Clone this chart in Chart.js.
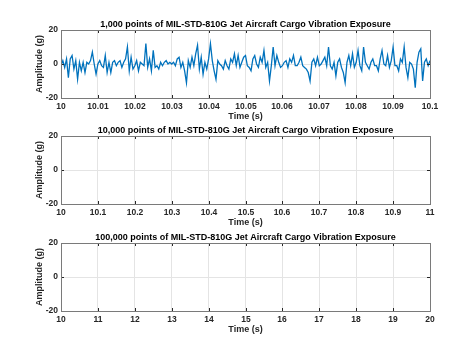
<!DOCTYPE html>
<html><head><meta charset="utf-8">
<script src="https://cdn.jsdelivr.net/npm/chart.js@4.4.0/dist/chart.umd.min.js"></script>
<style>
html,body{margin:0;padding:0;background:#fff;width:474px;height:355px;overflow:hidden}
canvas{position:absolute;left:0}
</style></head><body>
<canvas id="c1" width="474" height="125" style="top:0px"></canvas>
<canvas id="c2" width="474" height="125" style="top:106px"></canvas>
<canvas id="c3" width="474" height="125" style="top:213px"></canvas>
<script>
// ---- data ----
const titles = [
  '1,000 points of MIL-STD-810G Jet Aircraft Cargo Vibration Exposure',
  '10,000 points of MIL-STD-810G Jet Aircraft Cargo Vibration Exposure',
  '100,000 points of MIL-STD-810G Jet Aircraft Cargo Vibration Exposure'
];
const xTitle = 'Time (s)';
const yTitle = 'Amplitude (g)';
const yTicks = [-20, 0, 20];
const yLabels = ['-20', '0', '20'];
const xTicks1 = [10, 10.01, 10.02, 10.03, 10.04, 10.05, 10.06, 10.07, 10.08, 10.09, 10.1];
const xLabels1 = ['10','10.01','10.02','10.03','10.04','10.05','10.06','10.07','10.08','10.09','10.1'];
const xTicks2 = [10, 10.1, 10.2, 10.3, 10.4, 10.5, 10.6, 10.7, 10.8, 10.9, 11];
const xLabels2 = ['10','10.1','10.2','10.3','10.4','10.5','10.6','10.7','10.8','10.9','11'];
const xTicks3 = [10, 11, 12, 13, 14, 15, 16, 17, 18, 19, 20];
const xLabels3 = ['10','11','12','13','14','15','16','17','18','19','20'];
// sampled signal, 1st subplot (start time and sample step)
const t0 = 10;
const dt = 0.0005;
const amp1 = [
  -1, 2, -2, 3, -8, 3, 5, -3, 2, -9, 1, -4, 1, -5, 1, 0, 2, 7, 0, -6,
  0, 2, -1, -2, 5, -5, 1, -5, 1, 2, -1, 1, 2, -2, 1, 3, 10, -4, 4, -3,
  -1, 2, -4, 1, 0, -1, 12, -2, 3, -4, 8, -2, -1, -3, 1, -1, 1, 2, 0, 1,
  0, 1, -1, 3, 4, -2, 1, -4, -11, 2, -2, 4, -1, 6, 11, -3, 4, -6, 1, -3,
  3, 12, 2, -4, -9, 2, 0, -1, -3, 2, -1, -3, 3, 1, 6, -1, 5, -2, 1, 4,
  5, -1, -2, -4, 3, 5, 0, -2, 4, 1, 8, -2, 1, -10, -1, 10, -1, 5, 1, -2,
  -1, 1, 2, -2, 3, 1, 5, -1, -1, 1, 4, -1, -2, -3, -5, -10, 1, 3, -1, 4,
  -1, 0, 2, 4, -1, 10, -1, -3, 1, -7, 1, 3, -2, -5, -11, 1, 5, -1, 6, -2,
  1, 8, -1, -4, 10, 1, -1, -3, 1, 3, -1, -1, -4, 3, 8, 0, -1, 5, -2, 2,
  10, -1, -1, -4, 3, 1, 10, -2, -8, 1, 0, -3, -14, 1, 7, 9, -10, 1, 3, -1, 2
];

// ---- rendering ----
const FAM = "'Liberation Sans', Arial, Helvetica, sans-serif";
const TXT = '#262626';
const GRID = '#e4e4e4';

const boxPlugin = {
  id: 'matlabBox',
  afterDraw(chart, args, opts) {
    const {ctx, chartArea: a, scales: {x, y}} = chart;
    ctx.save();
    ctx.strokeStyle = '#262626';
    ctx.lineWidth = 1;
    ctx.beginPath();
    x.ticks.forEach(t => {
      const px = Math.round(x.getPixelForValue(t.value)) + 0.5;
      ctx.moveTo(px, a.bottom); ctx.lineTo(px, a.bottom - 3);
      ctx.moveTo(px, a.top); ctx.lineTo(px, a.top + 3);
    });
    y.ticks.forEach(t => {
      const py = Math.round(y.getPixelForValue(t.value)) + 0.5;
      ctx.moveTo(a.left, py); ctx.lineTo(a.left + 3, py);
      ctx.moveTo(a.right, py); ctx.lineTo(a.right - 3, py);
    });
    ctx.stroke();
    ctx.strokeStyle = '#7a7a7a';
    ctx.strokeRect(Math.round(a.left) + 0.5, Math.round(a.top) + 0.5,
                   Math.round(a.right - a.left), Math.round(a.bottom - a.top));
    // x tick labels, placed through the x scale
    ctx.fillStyle = TXT;
    ctx.font = 'bold 8.5px ' + FAM;
    ctx.textAlign = 'center';
    ctx.textBaseline = 'alphabetic';
    opts.ticks.forEach((v, i) => {
      ctx.fillText(opts.labels[i], Math.round(x.getPixelForValue(v)), Math.round(a.bottom) + 11);
    });
    ctx.restore();
  }
};

function makeChart(id, title, xt, xl, points) {
  return new Chart(document.getElementById(id), {
    type: 'line',
    data: { datasets: [{ data: points, borderColor: '#0072BD', borderWidth: 1.3,
                         pointRadius: 0, tension: 0, fill: false }] },
    options: {
      responsive: false, animation: false, devicePixelRatio: 1,
      parsing: false,
      layout: { padding: { left: 0, right: 44, top: 0, bottom: 0 } },
      plugins: {
        legend: { display: false }, tooltip: { enabled: false },
        title: { display: true, text: title, fullSize: false, color: '#000',
                 font: { family: FAM, size: 9, weight: 'bold' },
                 padding: { top: 18.8, bottom: 0.4 } },
        matlabBox: { ticks: xt, labels: xl }
      },
      scales: {
        x: {
          type: 'linear', min: xt[0], max: xt[xt.length - 1],
          afterBuildTicks: s => { s.ticks = xt.map(v => ({ value: v })); },
          afterFit: s => { s.height = 27; },
          ticks: { display: false, autoSkip: false, maxRotation: 0 },
          grid: { color: GRID, drawTicks: false },
          border: { display: false },
          title: { display: true, text: xTitle, color: TXT,
                   font: { family: FAM, size: 9, weight: 'bold' },
                   padding: { top: 0, bottom: 2.9 } }
        },
        y: {
          type: 'linear', min: -20, max: 20,
          afterBuildTicks: s => { s.ticks = yTicks.map(v => ({ value: v })); },
          afterFit: s => { s.width = 61; },
          ticks: { callback: (v, i) => yLabels[i], color: TXT, padding: 3,
                   autoSkip: false,
                   font: { family: FAM, size: 8.5, weight: 'bold' } },
          grid: { color: GRID, drawTicks: false },
          border: { display: false },
          title: { display: true, text: yTitle, color: TXT,
                   font: { family: FAM, size: 9, weight: 'bold' },
                   padding: { top: 34.1, bottom: 0 } }
        }
      }
    },
    plugins: [boxPlugin]
  });
}

const pts1 = amp1.map((v, i) => ({ x: t0 + i * dt, y: v }));
makeChart('c1', titles[0], xTicks1, xLabels1, pts1);
makeChart('c2', titles[1], xTicks2, xLabels2, []);
makeChart('c3', titles[2], xTicks3, xLabels3, []);
</script>
</body></html>
